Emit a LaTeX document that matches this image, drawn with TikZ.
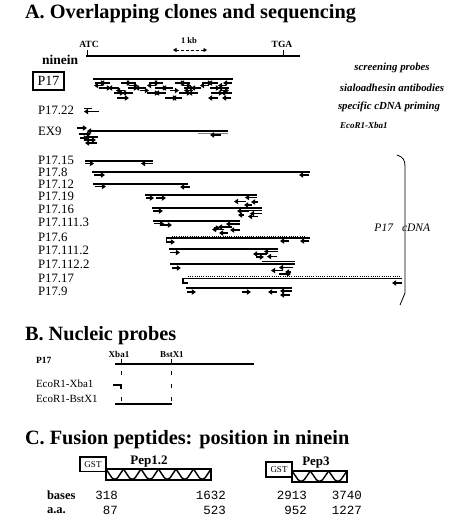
\documentclass[tikz,border=0pt]{standalone}
\usepackage{fontspec}
\setmainfont{Liberation Serif}
\newfontfamily\monof{Liberation Mono}
\usetikzlibrary{arrows.meta}
\newcommand\fs[1]{\fontsize{#1}{#1}\selectfont}
\begin{document}
\begin{tikzpicture}[x=1pt,y=-1pt,
  every node/.style={inner sep=0pt, outer sep=0pt},
  title/.style={anchor=base west, font=\fs{20.3}\bfseries},
  clab/.style={anchor=west, font=\fs{12.8}},
  rlab/.style={font=\fs{10.8}\bfseries\itshape},
  blab/.style={anchor=west, font=\fs{11}},
  tlab/.style={font=\fs{9.5}\bfseries},
  num/.style={anchor=east, font=\fs{12.5}\monof},
  rowlab/.style={anchor=west, font=\fs{12.5}\bfseries},
  clone/.style={line width=1.3pt},
  thickclone/.style={line width=1.7pt},
  sarr/.style={line width=1.5pt, -{Triangle[length=4.2pt,width=5.4pt]}},
  box/.style={draw, line width=1.4pt},
  zz/.style={line width=1.4pt, rounded corners=2pt}
]
\useasboundingbox (0,0) rectangle (474,528);

% ---------- A ----------
\node[title] (tA) at (25,18) {A. Overlapping clones and sequencing};
\node[anchor=west, font=\fs{13.5}\bfseries] (nin) at (42,59.5) {ninein};
\draw[line width=1.8pt] (86,56) -- (300,56);
\draw[line width=1pt] (87,50) -- (87,56);
\draw[line width=1pt] (283,50) -- (283,56);
\node[tlab] (atc) at (89,44) {ATC};
\node[tlab] (tga) at (282,44) {TGA};
\node[font=\fs{8.5}\bfseries] (kb) at (189,40.5) {1 kb};
\draw[line width=1pt, densely dashed, {Triangle[length=3.5pt,width=4pt]}-{Triangle[length=3.5pt,width=4pt]}] (173,50) -- (207,50);

% P17 box
\node[draw, line width=1.3pt, minimum width=31pt, minimum height=18pt, font=\fs{14}] (p17) at (48.5,81) {P17};
\draw[clone, line width=1.6pt] (93,79) -- (233,79);
\foreach \x/\l in {95/10,110/-10,121/10,136/-11,149/10,163/-10,175/10,190/-10,202/10,218/-10,232/-9}
  \draw[sarr] (\x,83) -- ++(\l,0);
\foreach \x/\l in {103/-9,129/9,156/-9,182/9,209/-9,226/-8}
  \draw[sarr] (\x,85.5) -- ++(\l,0);
\foreach \x/\l in {99/12,119/-11,128/10,146/-11,155/12,173/-11,184/10,201/-10,210/10,229/-11}
  \draw[sarr] (\x,88) -- ++(\l,0);
\foreach \x/\l in {125/-9,140/9,170/9,193/-9,220/9}
  \draw[sarr] (\x,90.5) -- ++(\l,0);
\foreach \x/\l in {114/10,133/-11,147/12,166/-11,179/12,198/-10,211/12,232/-11}
  \draw[sarr] (\x,93) -- ++(\l,0);
\foreach \x/\l in {117/12,165/12,182/-10,218/-10,231/-9}
  \draw[sarr] (\x,98) -- ++(\l,0);

% P17.22
\node[clab] (l22) at (38,110) {P17.22};
\draw[line width=1.4pt] (84,108.5) -- (92,108.5);
\draw[sarr] (99,111.5) -- (84,111.5);

% EX9
\node[clab] (lex9) at (38,131) {EX9};
\draw[clone] (88,131) -- (228,131);
\draw[line width=0.8pt, gray] (198,133.5) -- (228,133.5);
\draw[sarr] (221,135) -- ++(-11,0);
\foreach \x/\y/\l in {77/128/10,97/131/-10,79/134/12,98/137/-13,84/140/12,97/143/-12,80/138/8}
  \draw[sarr] (\x,\y) -- ++(\l,0);

% right-hand labels
\node[rlab] (r1) at (392,68) {screening probes};
\node[rlab] (r2) at (392,88) {sialoadhesin antibodies};
\node[rlab] (r3) at (389,107) {specific cDNA priming};
\node[rlab, anchor=west, font=\fs{9}\bfseries\itshape] (r4) at (340,125) {EcoR1-Xba1};

% cDNA clones
\node[clab] (l15) at (38,160) {P17.15};
\draw[clone] (85,161) -- (153,161);
\draw[sarr] (85,163.5) -- ++(9,0);
\draw[sarr] (153,163.5) -- ++(-12,0);

\node[clab] (l8) at (38,172.2) {P17.8};
\draw[clone] (92,172) -- (310,172);
\draw[sarr] (94,175) -- ++(11,0);
\draw[sarr] (309,175) -- ++(-10,0);

\node[clab] (l12) at (38,184.3) {P17.12};
\draw[clone] (93,184) -- (188,184);
\draw[sarr] (95,186.5) -- ++(11,0);
\draw[sarr] (190,187) -- ++(-10,0);

\node[clab] (l19) at (38,196.6) {P17.19};
\draw[clone] (145,195) -- (257,195);
\draw[sarr] (146,198) -- ++(8,0);
\draw[sarr] (156,198) -- ++(10,0);
\foreach \x/\y/\l in {257/197.5/-12,246/201.5/-12,258/202/-7,252/205/-8}
  \draw[sarr] (\x,\y) -- ++(\l,0);

\node[clab] (l16) at (38,209) {P17.16};
\draw[clone] (152,208) -- (262,208);
\draw[line width=0.9pt] (242,210.5) -- (262,210.5);
\draw[sarr] (153,211) -- ++(10,0);
\foreach \x/\y/\l in {249/211/-12,262/213.5/-12,258/216.5/-10,244/215/-6}
  \draw[sarr] (\x,\y) -- ++(\l,0);

\node[clab] (l1113) at (38,222.3) {P17.111.3};
\draw[clone] (153,221) -- (240,221);
\draw[sarr] (154,223.5) -- ++(10,0);
\draw[sarr] (160,225) -- ++(12,0);
\foreach \x/\y/\l in {240/224/-14,232/227/-14,224/229.5/-12,240/230/-10,228/233/-9,214/228/6}
  \draw[sarr] (\x,\y) -- ++(\l,0);

\node[clab] (l6) at (38,237.5) {P17.6};
\draw[thickclone] (166,238) -- (310,238);
\draw[line width=0.8pt, dash pattern=on 1pt off 1.2pt] (172,236.3) -- (305,236.3);
\draw[line width=1.3pt] (166.5,238) -- (166.5,243);
\draw[sarr] (167,242) -- ++(8,0);
\draw[sarr] (289,241) -- ++(-9,0);
\draw[sarr] (309,241) -- ++(-9,0);

\node[clab] (l1112) at (38,250.5) {P17.111.2};
\draw[clone] (169,249) -- (278,249);
\draw[sarr] (170,252.5) -- ++(10,0);
\foreach \x/\y/\l in {278/251.5/-14,267/254/-14,277/256.5/-10,256/257/8}
  \draw[sarr] (\x,\y) -- ++(\l,0);

\node[clab] (l1122) at (38,264.5) {P17.112.2};
\draw[clone] (170,264) -- (295,264);
\draw[line width=0.9pt] (262,261.8) -- (295,261.8);
\draw[sarr] (172,268) -- ++(9,0);
\foreach \x/\y/\l in {293/267.5/-14,283/270.5/-12,279/274/12,291/272/-6}
  \draw[sarr] (\x,\y) -- ++(\l,0);

\node[clab] (l17) at (38,278.5) {P17.17};
\draw[thickclone] (182,278.5) -- (402,278.5);
\draw[line width=0.8pt, dash pattern=on 1pt off 1.2pt] (188,276.8) -- (400,276.8);
\draw[line width=1.3pt] (183,278.5) -- (183,284);
\draw[line width=1.2pt] (183,283) -- (188,283);
\draw[sarr] (402,283) -- ++(-10,0);

\node[clab] (l9) at (38,291.5) {P17.9};
\draw[clone] (186,288) -- (292,288);
\foreach \x/\y/\l in {187/292/9,242/292/9,277/292/-9,292/291/-12,290/295/-10}
  \draw[sarr] (\x,\y) -- ++(\l,0);

% brace
\draw[line width=0.8pt] (397,155) .. controls (403,157) and (405,160) .. (405,166) -- (405,293) -- (400,305);
\node[anchor=east, font=\fs{11.5}\itshape] (cdnaA) at (393,228) {P17};
\node[anchor=west, font=\fs{11.5}\itshape] (cdnaB) at (402,228) {cDNA};

% ---------- B ----------
\node[title] (tB) at (25,340) {B. Nucleic probes};
\node[anchor=west, font=\fs{9.5}\bfseries] (bp17) at (36,360.5) {P17};
\node[blab] (bxb) at (36,384) {EcoR1-Xba1};
\node[blab] (bbs) at (36,399) {EcoR1-BstX1};
\draw[line width=1.3pt] (115,364) -- (254,364);
\draw[line width=1pt] (121,358.5) -- (121,364);
\draw[line width=1pt] (171,358.5) -- (171,364);
\node[font=\fs{9}\bfseries] (xba) at (119,354.5) {Xba1};
\node[font=\fs{9}\bfseries] (bst) at (172,354.5) {BstX1};
\draw[line width=1pt, dash pattern=on 4pt off 9pt] (121,371) -- (121,404);
\draw[line width=1pt, dash pattern=on 4pt off 9pt] (171,371) -- (171,404);
\draw[line width=1.1pt] (113,385) -- (121,385) -- (121,389);
\draw[line width=1.3pt] (115,404) -- (172,404);

% ---------- C ----------
\node[title] (tC) at (25,444) {C. Fusion peptides: position in ninein};
\draw[box] (80,457) rectangle (106,471.5);
\node[font=\fs{9}] (gst1) at (93,464.5) {GST};
\draw[box, line width=1.8pt] (106,469) rectangle (211,480);
\foreach \i in {0,...,5}
  \draw[zz] ({106+\i*17.5},469) -- ({106+\i*17.5+7},479.5) -- ({106+\i*17.5+10.5},479.5) -- ({106+(\i+1)*17.5},469);
\node[font=\fs{13}\bfseries] (pep12) at (149,462) {Pep1.2};

\draw[box] (266,462) rectangle (292,477);
\node[font=\fs{9}] (gst2) at (279,469.5) {GST};
\draw[box, line width=1.8pt] (292,471) rectangle (347,482);
\foreach \i in {0,1,2}
  \draw[zz] ({292+\i*18.33},471) -- ({292+\i*18.33+7.3},481.5) -- ({292+\i*18.33+11},481.5) -- ({292+(\i+1)*18.33},471);
\node[font=\fs{13}\bfseries] (pep3) at (316,463) {Pep3};

\node[rowlab] (bases) at (47,495) {bases};
\node[rowlab] (aa) at (47,510.5) {a.a.};
\node[num] (n1) at (118,495) {318};
\node[num] (n2) at (226,495) {1632};
\node[num] (n3) at (307,495) {2913};
\node[num] (n4) at (362,495) {3740};
\node[num] (m1) at (118,510.5) {87};
\node[num] (m2) at (226,510.5) {523};
\node[num] (m3) at (307,510.5) {952};
\node[num] (m4) at (362,510.5) {1227};
\end{tikzpicture}
\end{document}
